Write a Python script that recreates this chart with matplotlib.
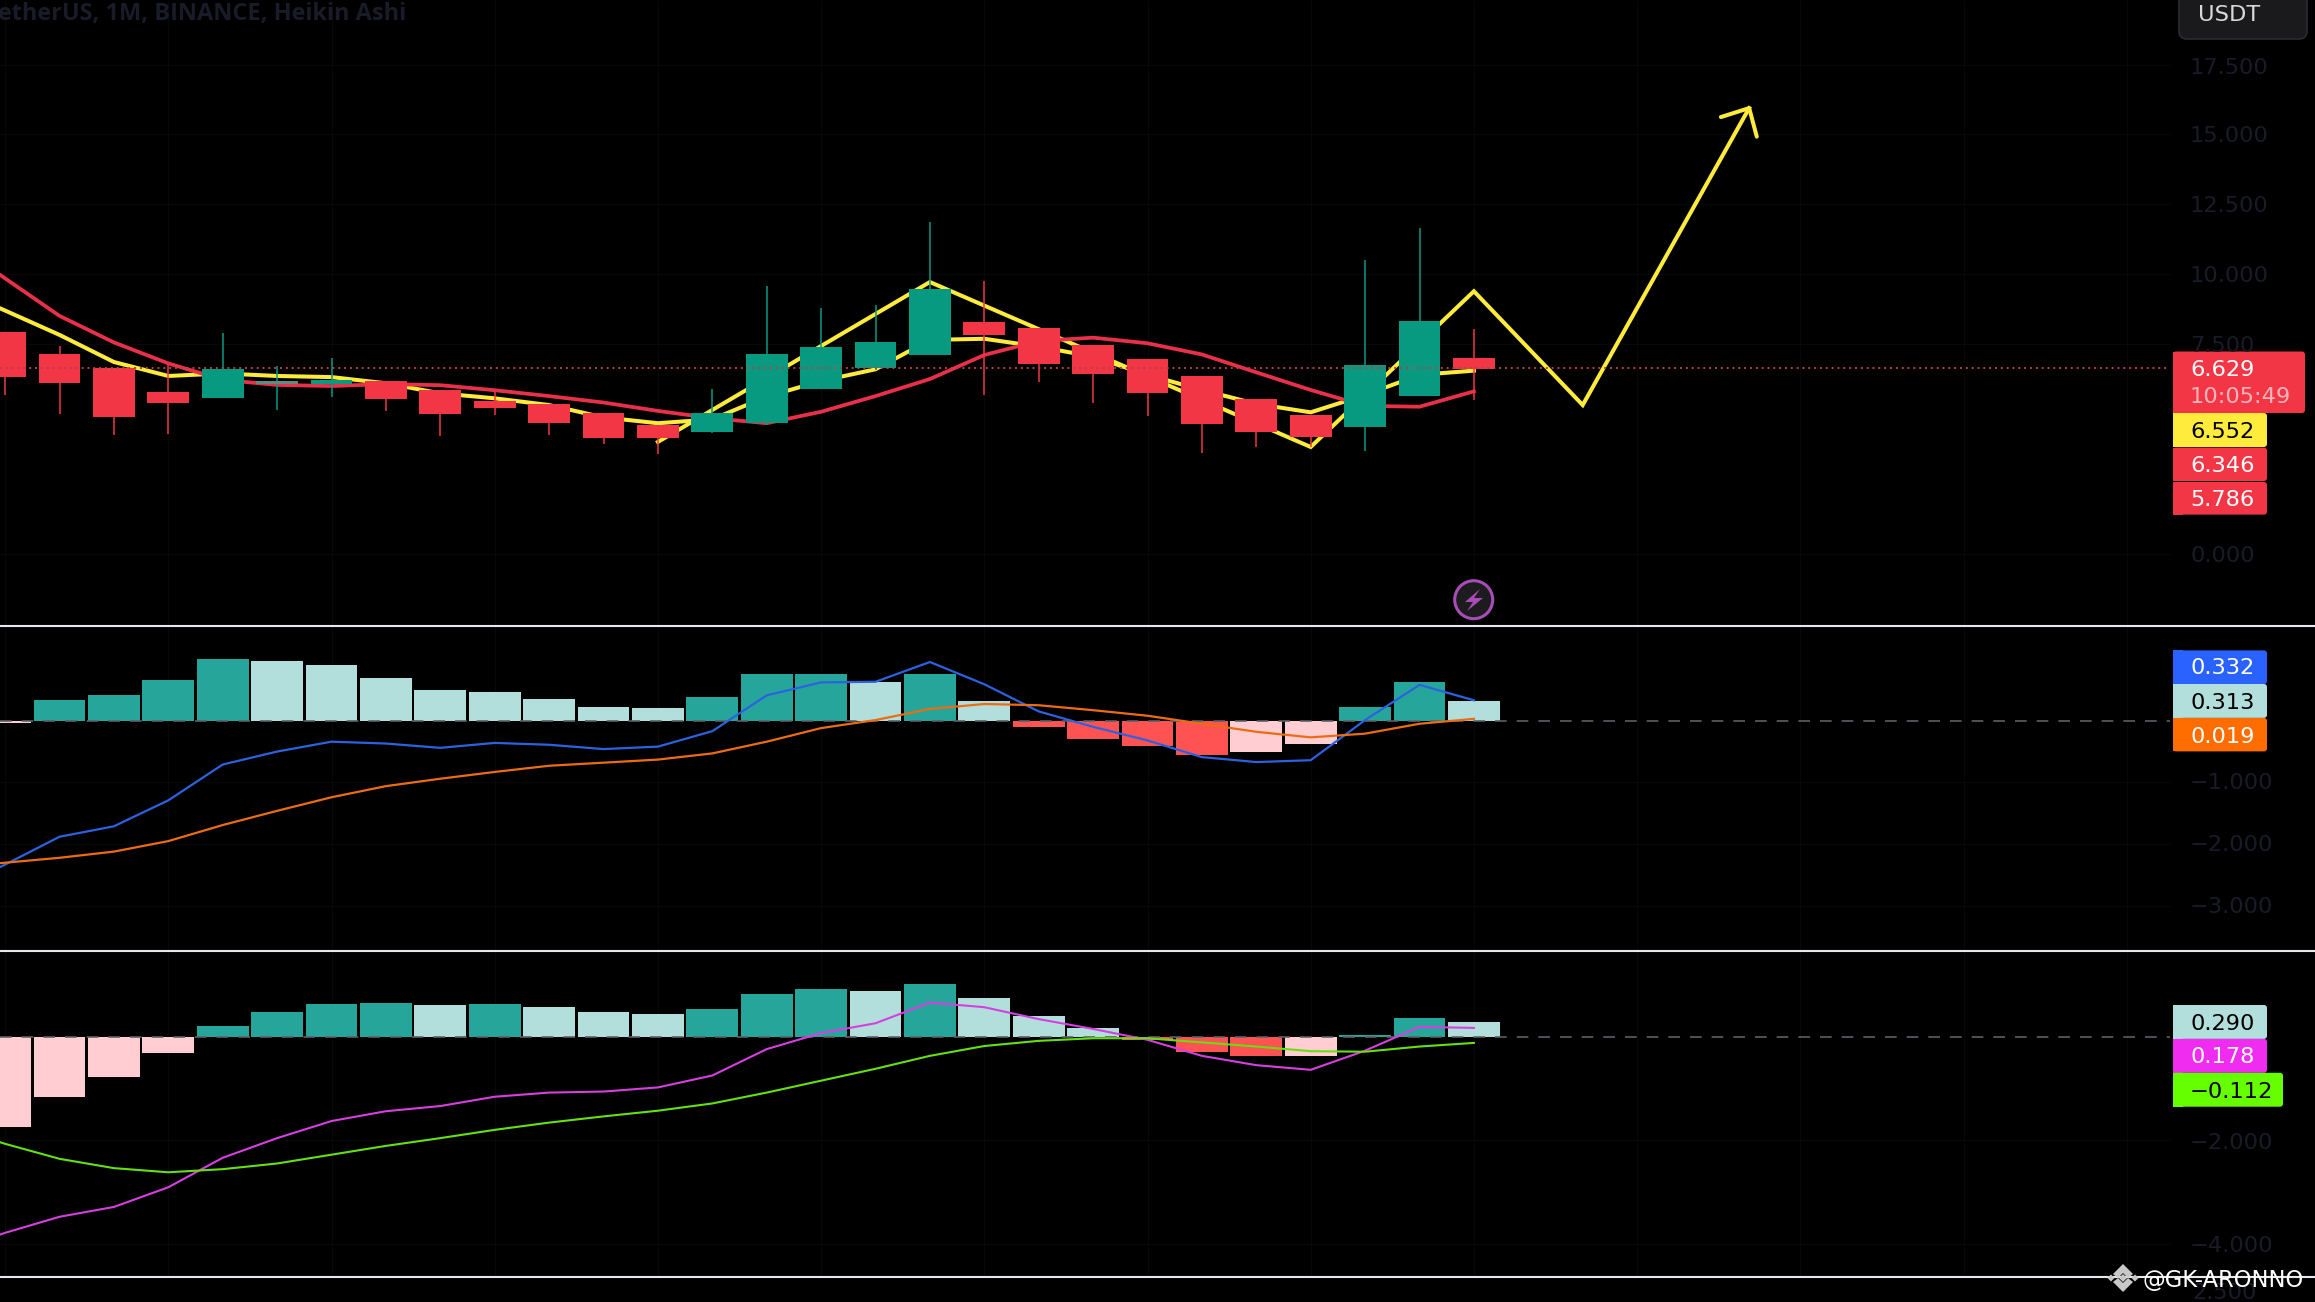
import matplotlib
matplotlib.use('Agg')
import matplotlib.pyplot as plt
from matplotlib.patches import Rectangle, FancyBboxPatch, Circle, Polygon
import numpy as np

W, H = 2315, 1302
FONT = 'DejaVu Sans'

# heikin ashi candles, last 28 months
opens = [7.93, 7.15, 6.66, 5.79, 5.57, 6.09, 6.09, 6.18, 5.86, 5.47, 5.36, 5.04, 4.61, 4.36,
         4.68, 5.89, 6.65, 7.11, 8.29, 8.08, 7.47, 6.97, 6.36, 5.54, 4.96, 4.54, 5.64, 7.00]
closes = [6.34, 6.12, 4.89, 5.39, 6.61, 6.18, 6.22, 5.54, 5.00, 5.21, 4.68, 4.14, 4.14, 5.04,
          7.15, 7.40, 7.58, 9.47, 7.83, 6.79, 6.43, 5.75, 4.64, 4.36, 4.18, 6.75, 8.33, 6.61]
highs = [7.93, 7.43, 6.66, 6.75, 7.90, 6.72, 7.00, 6.18, 5.86, 5.79, 5.36, 5.04, 4.61, 5.89,
         9.58, 8.79, 8.90, 11.87, 9.76, 8.08, 7.47, 6.97, 6.36, 5.54, 4.96, 10.51, 11.65, 8.04]
lows = [5.68, 5.00, 4.25, 4.29, 5.57, 5.14, 5.61, 5.11, 4.21, 4.96, 4.25, 3.93, 3.57, 4.32,
        4.61, 5.89, 6.57, 7.11, 5.68, 6.14, 5.39, 4.93, 3.61, 3.82, 3.82, 3.68, 5.64, 5.50]

# moving averages start one bar off screen
ema_fast = [9.55, 8.70, 7.83, 6.86, 6.36, 6.45, 6.36, 6.32, 6.10, 5.74, 5.56, 5.32, 4.88, 4.67, 4.81,
            5.62, 6.18, 6.60, 7.65, 7.69, 7.41, 7.05, 6.40, 5.86, 5.36, 5.06, 5.68, 6.40, 6.55]
ema_slow = [11.20, 9.85, 8.51, 7.56, 6.81, 6.22, 6.04, 6.00, 6.07, 6.03, 5.85, 5.64, 5.41, 5.11, 4.85,
            4.67, 5.08, 5.64, 6.25, 7.11, 7.61, 7.73, 7.53, 7.13, 6.49, 5.86, 5.29, 5.26, 5.81]

# hand drawn projection
draw_x = [12, 17, 24, 27, 29, 32.06]
draw_y = [4.00, 9.72, 3.82, 9.39, 5.32, 15.94]
head_x = [31.54, 32.06, 32.2]
head_y = [15.62, 15.94, 14.92]

macd_hist = [-0.04, 0.335, 0.416, 0.659, 0.999, 0.966, 0.901, 0.691, 0.497, 0.464, 0.351, 0.221, 0.205, 0.383,
             0.756, 0.756, 0.626, 0.756, 0.318, -0.103, -0.297, -0.410, -0.556, -0.507, -0.378, 0.221, 0.626, 0.313]
macd_cols = 'p d d d d l l l l l l l l d d d l d l r r r r p p d d l'.split()
macd_line = [-2.77, -2.33, -1.88, -1.71, -1.29, -0.71, -0.50, -0.34, -0.37, -0.44, -0.36, -0.39, -0.46, -0.42, -0.17,
             0.41, 0.62, 0.63, 0.95, 0.59, 0.15, -0.10, -0.32, -0.59, -0.67, -0.64, 0.01, 0.58, 0.33]
macd_signal = [-2.37, -2.30, -2.22, -2.12, -1.95, -1.69, -1.46, -1.24, -1.06, -0.94, -0.83, -0.73, -0.68, -0.63, -0.53,
               -0.34, -0.12, 0.01, 0.19, 0.27, 0.25, 0.17, 0.08, -0.05, -0.18, -0.27, -0.21, -0.05, 0.03]

osc_hist = [-1.746, -1.166, -0.779, -0.316, 0.206, 0.477, 0.631, 0.651, 0.612, 0.631, 0.573, 0.477, 0.438, 0.535,
            0.824, 0.921, 0.882, 1.018, 0.747, 0.399, 0.167, -0.06, -0.296, -0.374, -0.374, 0.03, 0.361, 0.29]
osc_cols = 'p p p p d d d d l d l l l d d d l d l l l r r r p d d l'.split()
osc_line = [-4.15, -3.79, -3.48, -3.29, -2.91, -2.34, -1.96, -1.63, -1.44, -1.34, -1.16, -1.08, -1.06, -0.98, -0.75,
            -0.24, 0.07, 0.26, 0.66, 0.57, 0.34, 0.15, -0.06, -0.37, -0.55, -0.64, -0.27, 0.19, 0.17]
osc_signal = [-1.74, -2.07, -2.36, -2.54, -2.62, -2.56, -2.45, -2.28, -2.11, -1.96, -1.80, -1.66, -1.54, -1.43, -1.29,
              -1.08, -0.85, -0.62, -0.37, -0.18, -0.08, -0.03, -0.03, -0.11, -0.19, -0.28, -0.29, -0.19, -0.12]

price_ticks = [17.5, 15.0, 12.5, 10.0, 7.5, 0.0]
macd_ticks = [-1.0, -2.0, -3.0]
osc_ticks = [-2.0, -4.0]

UP, DOWN = '#089981', '#f23645'
HIST = {'d': '#26a69a', 'l': '#b2dfdb', 'r': '#ff5252', 'p': '#ffcdd2'}
GRID = '#08080b'
DIM = '#191c28'
TXT = 16.2

bars = np.arange(28)
bars_ma = np.arange(-1, 28)
xlim = (-5.1 / 54.4, (W - 5.1) / 54.4)
x_end = (2170 - 5.1) / 54.4

fig = plt.figure(figsize=(W / 100, H / 100), dpi=100, facecolor='black')


def pane(top, bottom, ylim):
    ax = fig.add_axes([0, 1 - bottom / H, 1, (bottom - top) / H])
    ax.set_facecolor('black')
    ax.set_xlim(*xlim)
    ax.set_ylim(*ylim)
    ax.axis('off')
    ax.vlines(np.arange(0, 42, 3), *ylim, color=GRID, lw=0.8, zorder=0)
    return ax


ax1 = pane(0, 625.7, (-2.572, 19.807))
ax2 = pane(625.7, 950.6, (-3.723, 1.538))
ax3 = pane(950.6, 1276.7, (-4.638, 1.664))

# price pane
ax1.hlines(price_ticks, xlim[0], x_end, color=GRID, lw=0.8, zorder=0)
ax1.plot(bars_ma, ema_fast, color='#ffeb3b', lw=2.9, zorder=2)
ax1.plot(draw_x, draw_y, color='#ffeb3b', lw=2.9, zorder=2, solid_joinstyle='miter')
ax1.plot(head_x, head_y, color='#ffeb3b', lw=2.9, zorder=2, solid_capstyle='round')
ax1.plot(bars_ma, ema_slow, color='#e8304a', lw=2.7, zorder=2)
for i in bars:
    c = UP if closes[i] >= opens[i] else DOWN
    ax1.vlines(i, lows[i], highs[i], color=c, lw=1.1, zorder=3)
    body = '#5f8a80' if i == 5 else c
    ax1.bar(i, abs(closes[i] - opens[i]), bottom=min(opens[i], closes[i]), width=0.77, color=body, zorder=4)
ax1.plot([xlim[0], x_end], [6.629, 6.629], color='#b5404a', lw=1.4, ls=(0, (1, 2)), zorder=5)

# macd pane
ax2.hlines(macd_ticks, xlim[0], x_end, color=GRID, lw=0.8, zorder=0)
ax2.bar(bars, macd_hist, width=0.955, color=[HIST[c] for c in macd_cols], zorder=2)
ax2.plot([xlim[0], x_end], [0, 0], color='#5c6066', lw=1.2, ls=(0, (7, 6)), zorder=3)
ax2.plot(bars_ma, macd_line, color='#2c62e0', lw=1.6, zorder=4)
ax2.plot(bars_ma, macd_signal, color='#ec6c14', lw=1.6, zorder=4)

# lower oscillator pane
ax3.hlines(osc_ticks, xlim[0], x_end, color=GRID, lw=0.8, zorder=0)
ax3.bar(bars, osc_hist, width=0.955, color=[HIST[c] for c in osc_cols], zorder=2)
ax3.plot([xlim[0], x_end], [0, 0], color='#5c6066', lw=1.2, ls=(0, (7, 6)), zorder=3)
ax3.plot(bars_ma, osc_line, color='#d640e0', lw=1.5, zorder=4)
ax3.plot(bars_ma, osc_signal, color='#66e010', lw=1.5, zorder=4)

# everything else sits on a pixel overlay
ov = fig.add_axes([0, 0, 1, 1], facecolor='none')
ov.set_xlim(0, W)
ov.set_ylim(H, 0)
ov.axis('off')

for y in (625.7, 950.6, 1276.7):
    ov.plot([0, W], [y, y], color='#e6e8ec', lw=1.5, zorder=2)


def badge(x0, x1, y0, y1, color):
    ov.add_patch(FancyBboxPatch((x0, y0), x1 - x0, y1 - y0, boxstyle='round,pad=0,rounding_size=3',
                                fc=color, ec='none', zorder=3))
    ov.add_patch(Rectangle((x0, y0), 10, y1 - y0, fc=color, ec='none', zorder=3))


def label(x, y, s, color, size=TXT):
    ov.text(x, y, s, color=color, fontsize=size, family=FONT, va='center_baseline', ha='left', zorder=4)


# axis labels, y positions follow the pane scales
for v, y in zip(price_ticks, [65.9, 134.3, 204.2, 274, 344, 553.8]):
    label(2190, y, f'{v:.3f}', DIM)
for v, y in zip(macd_ticks, [781.4, 843, 904.9]):
    label(2190, y, f'{v:.3f}'.replace('-', '\u2212'), DIM)
for v, y in zip(osc_ticks, [1140.7, 1244.2]):
    label(2190, y, f'{v:.3f}'.replace('-', '\u2212'), DIM)

ov.text(-2, 14, 'etherUS, 1M, BINANCE, Heikin Ashi', color=DIM, fontsize=16.9, family='Open Sans',
        fontweight='bold', va='center', ha='left')

# currency button
ov.add_patch(FancyBboxPatch((2179, -12), 128, 51, boxstyle='round,pad=0,rounding_size=8',
                            fc='#1a1a1c', ec='#2c2c30', lw=1.2, zorder=3))
label(2198, 13, 'USDT', '#d8d8d8')

badge(2173, 2305, 351.5, 413, '#f23645')
label(2190, 368, '6.629', '#ffffff')
label(2190, 395, '10:05:49', '#f8b6bc')
badge(2173, 2267, 413, 447, '#ffeb3b')
label(2190, 430, '6.552', '#000000')
badge(2173, 2267, 447.6, 481, '#f23645')
label(2190, 463.6, '6.346', '#ffffff')
badge(2173, 2267, 482, 514.6, '#f23645')
label(2190, 497.6, '5.786', '#ffffff')

badge(2173, 2267, 650.4, 684, '#2962ff')
label(2190, 666.5, '0.332', '#ffffff')
badge(2173, 2267, 684, 717.9, '#b2dfdb')
label(2190, 701, '0.313', '#000000')
badge(2173, 2267, 717.9, 751.4, '#ff6d00')
label(2190, 734.8, '0.019', '#ffffff')

badge(2173, 2267, 1005, 1038.9, '#b2dfdb')
label(2190, 1021.5, '0.290', '#000000')
badge(2173, 2267, 1038.9, 1072.8, '#f02cf0')
label(2190, 1055.4, '0.178', '#ffffff')
badge(2173, 2283, 1072.8, 1106.7, '#66ff00')
label(2190, 1089.8, '\u22120.112', '#000000')

# alert icon
ov.add_patch(Circle((1473.7, 599.7), 19, fc='#1c1c1e', ec='#a84cb8', lw=2.2, zorder=3))
ov.add_patch(Polygon([(1480, 589), (1465, 602), (1473, 602), (1467, 611), (1483, 598), (1474, 598)],
                     fc='#a84cb8', ec='none', zorder=4))

# watermark, sits on top of the bottom rule
label(2192, 1291, '2.500', DIM)
ov.text(2142, 1278, '@GK-ARONNO', color='white', fontsize=16.3, family=FONT, va='center_baseline', ha='left', zorder=5)
for pts in ([(2123, 1264), (2133, 1274), (2128, 1278), (2123, 1273), (2118, 1278), (2113, 1274)],
            [(2123, 1292), (2133, 1282), (2128, 1278), (2123, 1283), (2118, 1278), (2113, 1282)],
            [(2123, 1274), (2127, 1278), (2123, 1282), (2119, 1278)],
            [(2111, 1274.5), (2114.5, 1278), (2111, 1281.5), (2107.5, 1278)],
            [(2135, 1274.5), (2138.5, 1278), (2135, 1281.5), (2131.5, 1278)]):
    ov.add_patch(Polygon(pts, fc='#c8c8c8', ec='none', zorder=5))

fig.savefig('out.png', dpi=100, facecolor='black')
